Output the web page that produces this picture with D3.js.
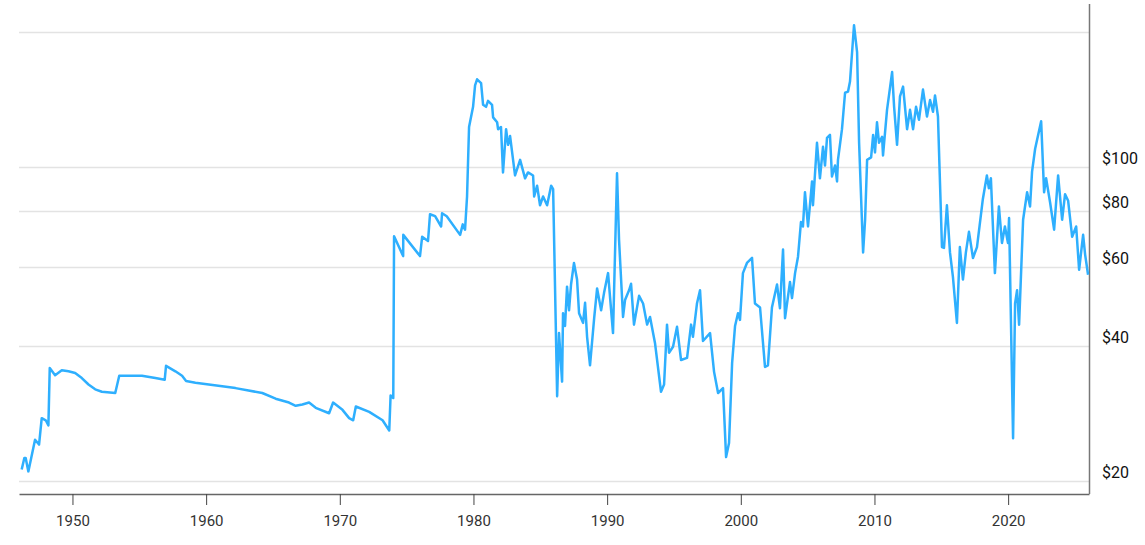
<!DOCTYPE html>
<html><head><meta charset="utf-8">
<script src="https://cdn.jsdelivr.net/npm/d3@7"></script>
<style>body{margin:0;background:#fff;font-family:Roboto,sans-serif}</style>
</head><body><svg id="c" width="1145" height="545"></svg>
<script>
// 1946-1974
const yearsA = [1946.2,1946.4,1946.5,1946.7,1947.2,1947.5,1947.7,1948.0,1948.2,1948.3,1948.7,1949.2,1949.7,1950.2,1950.7,1951.2,1951.7,1952.2,1953.2,1953.5,1954.2,1955.2,1956.2,1956.9,1957.0,1957.7,1958.2,1958.5,1959.2,1960.2,1962.2,1964.2,1965.2,1966.2,1966.7,1967.2,1967.7,1968.2,1969.2,1969.5,1970.2,1970.7,1971.0,1971.2,1972.2,1973.2,1973.7,1973.8,1974.0];
const pricesA = [21.2,22.5,22.5,21.0,24.7,24.1,27.6,27.3,26.6,35.7,34.4,35.3,35.1,34.8,33.9,32.8,32.0,31.6,31.4,34.3,34.3,34.3,33.9,33.6,36.1,35.1,34.3,33.4,33.1,32.8,32.2,31.4,30.5,29.9,29.4,29.6,29.9,29.1,28.3,29.9,28.8,27.6,27.3,29.3,28.5,27.3,25.9,31.0,30.6];
// 1974-2000
const yearsB = [1974.06,1974.74,1974.75,1976.0,1976.16,1976.6,1976.75,1977.13,1977.58,1977.65,1978.0,1979.0,1979.2,1979.37,1979.52,1979.67,1979.97,1980.12,1980.27,1980.57,1980.72,1980.94,1981.09,1981.39,1981.47,1981.77,1981.84,1982.06,1982.21,1982.44,1982.59,1982.74,1983.11,1983.49,1983.86,1984.08,1984.46,1984.54,1984.76,1984.98,1985.21,1985.51,1985.81,1985.96,1986.26,1986.4,1986.63,1986.7,1986.85,1987.0,1987.15,1987.3,1987.52,1987.75,1987.9,1988.2,1988.35,1988.5,1988.72,1989.03,1989.25,1989.55,1989.77,1990.07,1990.44,1990.74,1990.89,1991.19,1991.34,1991.64,1991.79,1992.01,1992.39,1992.69,1992.99,1993.21,1993.58,1994.03,1994.26,1994.48,1994.63,1994.93,1995.23,1995.53,1995.98,1996.28,1996.42,1996.72,1996.95,1997.17,1997.7,1998.0,1998.3,1998.67,1998.9,1999.12,1999.35,1999.57,1999.79];
const pricesB = [70.2,63.4,70.7,63.4,70.0,68.5,78.6,77.8,73.8,79.0,77.8,70.7,74.6,72.6,86.1,123,136.4,152.3,157.1,154,137.8,136.4,140.6,137.8,129.2,126,121.6,123,97.4,121.6,112.2,117.4,95.9,103.9,94.5,97.4,95.9,86.1,91.0,82.3,86.1,82.3,91.0,89.4,30.9,42.7,33.3,47.3,44.3,54.2,48.0,54.8,61.2,56.2,47.3,45.0,49.9,41.9,36.2,46.1,53.7,48.0,52.5,58.1,42.7,97.0,69.0,46.4,50.6,53.2,55.0,44.6,51.7,49.7,44.6,46.4,40.6,31.6,32.8,44.6,38.6,39.8,44.1,37.2,37.6,44.6,41.9,49.7,53.2,41.0,42.7,35.0,31.4,32.2,22.6,24.3,36.6,44.3,47.3];
// 2000-2025
const yearsC = [1999.94,2000.16,2000.46,2000.84,2001.06,2001.44,2001.81,2002.03,2002.33,2002.71,2002.93,2003.16,2003.31,2003.68,2003.83,2004.06,2004.28,2004.5,2004.65,2004.8,2005.03,2005.33,2005.4,2005.7,2005.92,2006.15,2006.3,2006.45,2006.67,2006.82,2007.05,2007.2,2007.27,2007.57,2007.8,2008.02,2008.17,2008.47,2008.7,2008.85,2009.15,2009.3,2009.45,2009.75,2009.9,2010.04,2010.19,2010.34,2010.57,2010.64,2010.94,2011.32,2011.47,2011.69,2011.91,2012.14,2012.44,2012.66,2012.89,2013.11,2013.33,2013.63,2013.93,2014.16,2014.38,2014.53,2014.75,2015.05,2015.2,2015.42,2015.65,2015.87,2016.17,2016.39,2016.62,2016.84,2017.07,2017.37,2017.67,2018.11,2018.41,2018.56,2018.71,2019.01,2019.31,2019.54,2019.76,2019.99,2020.07,2020.37,2020.52,2020.67,2020.82,2021.12,2021.42,2021.64,2021.79,2022.02,2022.47,2022.69,2022.84,2023.14,2023.44,2023.74,2024.04,2024.26,2024.49,2024.79,2025.09,2025.31,2025.61,2025.76,2025.98];
const pricesC = [45.7,58.1,61.2,62.8,49.7,48.7,35.9,36.2,48.7,54.8,48.5,65.6,46.1,55.5,51.1,58.1,63.2,75.5,73.8,88.0,73.8,93.0,82.3,113.4,94.5,111.1,100.9,116.3,118.1,95.4,100.9,93.0,103.9,121.6,146.6,147.4,155.3,207.3,180.5,113.4,64.6,76.4,103.9,105.2,118.1,107.9,126.0,113.4,116.9,106.3,134.3,163.0,136.4,112.2,143.9,151.3,121.6,134.3,121.6,136.4,127.6,149.0,129.8,141.3,133.0,144.6,129.8,66.4,66.1,82.3,64.6,57.0,45.0,66.4,56.2,64.6,71.8,62.8,66.4,85.0,95.9,89.8,94.5,58.1,81.8,67.8,73.8,67.8,77.1,24.9,49.7,53.2,44.6,76.4,88.0,81.8,97.8,110.0,126.6,88.0,94.5,83.5,72.6,95.9,76.4,87.1,84.2,70.0,73.8,59.1,70.7,63.9,57.6];
const yTicks = [20,40,60,80,100,200];
const yLabels = ["$20","$40","$60","$80","$100",""];
const xTicks = [1950,1960,1970,1980,1990,2000,2010,2020];

const years = yearsA.concat(yearsB, yearsC);
const prices = pricesA.concat(pricesB, pricesC);

const svg = d3.select("#c");
const x = d3.scaleLinear().domain([1946.0,2026.05]).range([19,1089]);
const y = d3.scaleLog().domain([18.7,230]).range([494,5]);
const data = years.map((d,i)=>({t:d,v:prices[i]}));

svg.append("g").selectAll("line").data(yTicks).join("line")
  .attr("x1",19).attr("x2",1089).attr("y1",d=>Math.round(y(d))+0.5).attr("y2",d=>Math.round(y(d))+0.5)
  .attr("stroke","#e3e3e3").attr("stroke-width",1.5);
svg.append("g").selectAll("text").data(yTicks).join("text")
  .attr("x",1102).attr("y",d=>y(d)-3).text((d,i)=>yLabels[i])
  .attr("font-size",16).attr("fill","#111");

const xa = svg.append("g").attr("transform","translate(0,494)")
  .call(d3.axisBottom(x).tickValues(xTicks).tickFormat(d3.format("d")).tickSize(11).tickPadding(10).tickSizeOuter(0));
xa.select(".domain").attr("stroke","#666").attr("stroke-width",1.5);
xa.selectAll(".tick line").attr("stroke","#444");
xa.selectAll("text").attr("font-size",15).attr("fill","#333").attr("font-family","Roboto");

svg.append("line").attr("x1",1089.5).attr("x2",1089.5).attr("y1",4).attr("y2",494)
  .attr("stroke","#777").attr("stroke-width",1.5);

svg.append("path").datum(data)
  .attr("d",d3.line().x(d=>x(d.t)).y(d=>y(d.v)))
  .attr("fill","none").attr("stroke","#2eaffe").attr("stroke-width",2.5).attr("stroke-linejoin","round");
</script></body></html>
